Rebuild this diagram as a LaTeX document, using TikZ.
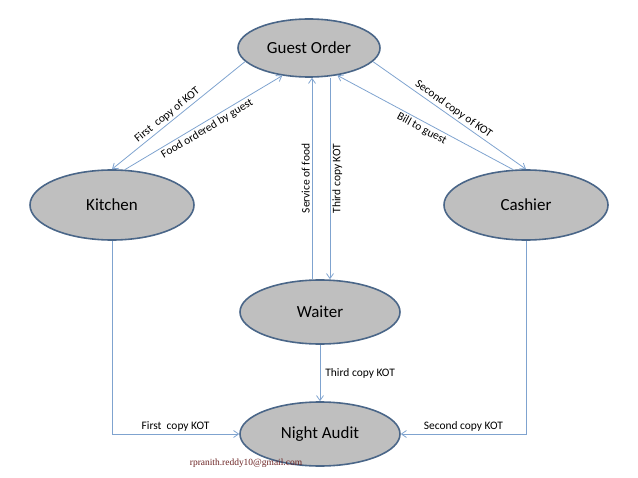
\documentclass[tikz,border=0pt]{standalone}
\usepackage{fontspec}
\setmainfont{Carlito}
\newfontfamily\emailfont{Liberation Serif}
\usetikzlibrary{shapes.geometric,arrows.meta}
\definecolor{nodefill}{HTML}{BFBFBF}
\definecolor{nodeline}{HTML}{4A6688}
\definecolor{arr}{HTML}{7FA3CF}
\definecolor{mail}{HTML}{6B2222}
\begin{document}
\begin{tikzpicture}[x=1bp,y=-1bp,
  st/.style={ellipse,draw=nodeline,line width=1.6pt,fill=nodefill,inner sep=0pt,font=\fontsize{17}{17}\selectfont},
  ar/.style={draw=arr,line width=0.8pt,-{Straight Barb[length=5pt,width=7pt]}},
  lb/.style={font=\fontsize{11.5}{11.5}\selectfont,text=black,inner sep=2pt}]
\useasboundingbox (0,0) rectangle (638,478);
\node[st,minimum width=142bp,minimum height=58bp] (go) at (309,48) {Guest Order};
\node[st,minimum width=164bp,minimum height=70bp] (ki) at (112,205) {Kitchen};
\node[st,minimum width=164bp,minimum height=70bp] (ca) at (526,205) {Cashier};
\node[st,minimum width=160bp,minimum height=64bp] (wa) at (320,312) {Waiter};
\node[st,minimum width=160bp,minimum height=64bp] (na) at (320,434) {Night Audit};
% kitchen - guest order
\draw[ar] (go.192) -- node[lb,sloped,above,pos=0.55] {First\ \ copy of KOT} (ki.north);
\draw[ar] (ki.70) -- node[lb,sloped,below,pos=0.5] {Food ordered by guest} (go.226);
% guest order - cashier
\draw[ar] (go.-12) -- node[lb,sloped,above] {Second copy of KOT} (ca.north);
\draw[ar] (ca.110) -- node[lb,sloped,below] {Bill to guest} (go.-44);
% waiter - guest order
\draw[ar] (wa.north -| 312,0) -- node[lb,rotate=90,above] {Service of food} (go.south -| 312,0);
\draw[ar] (go.south -| 330,0) -- node[lb,rotate=90,below] {Third copy KOT} (wa.north -| 330,0);
% to night audit
\draw[ar] (ki.south) |- node[lb,pos=0.75,above] {First\ \ copy KOT} (na.west);
\draw[ar] (ca.south) |- node[lb,pos=0.75,above] {Second copy KOT} (na.east);
\draw[ar] (wa.south) -- node[lb,right,xshift=3pt] {Third copy KOT} (na.north);
\node[font=\emailfont\fontsize{9.5}{9.5}\selectfont,text=mail] (em) at (246,463) {rpranith.reddy10@gmail.com};
\end{tikzpicture}
\end{document}
